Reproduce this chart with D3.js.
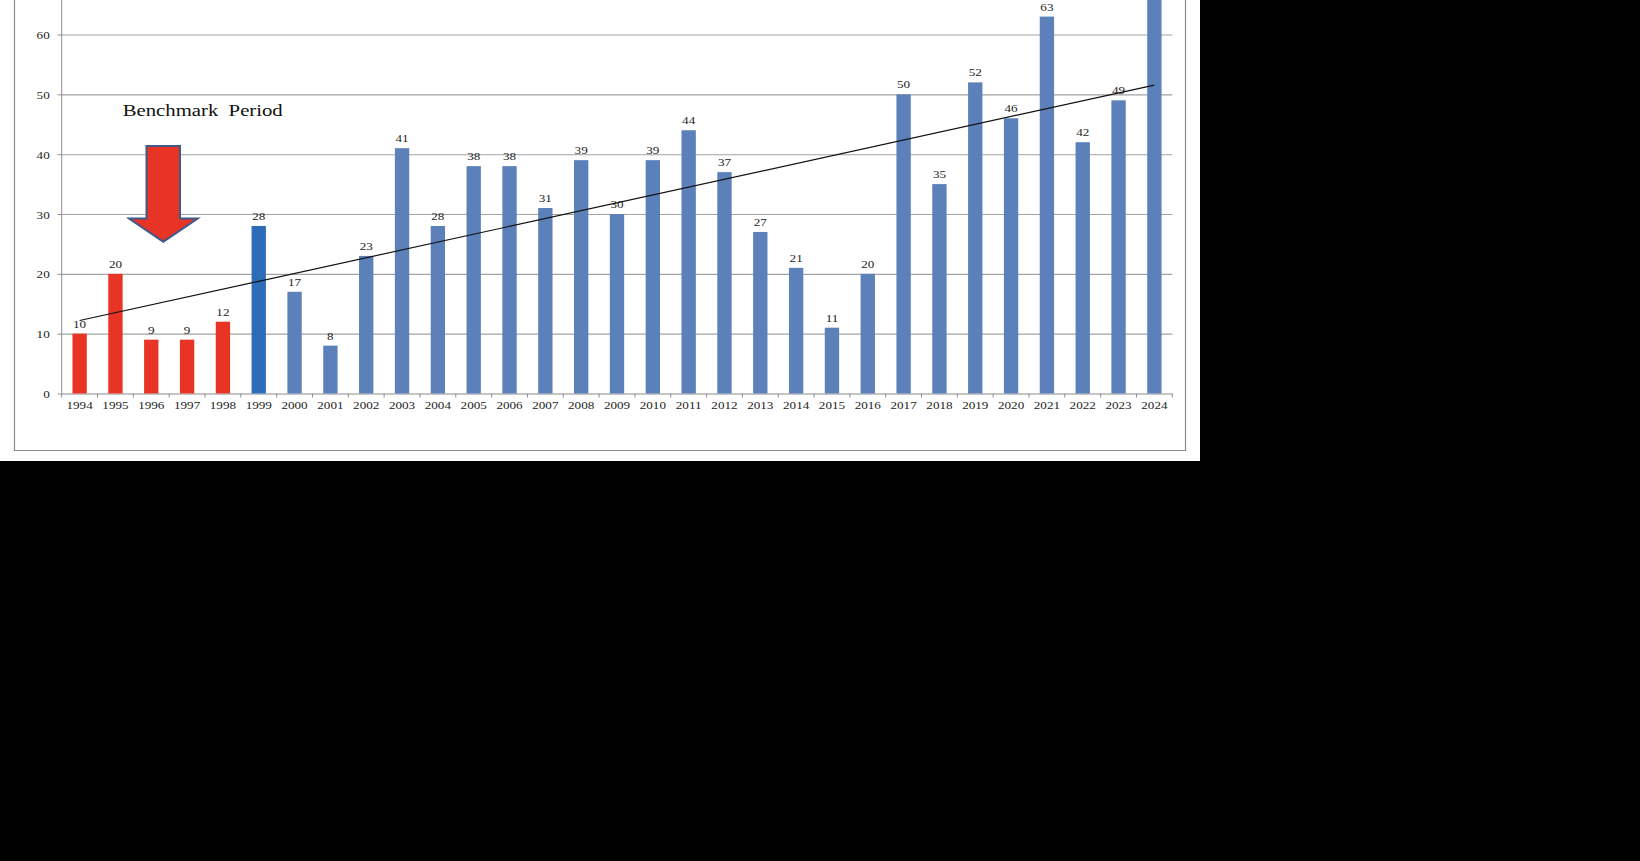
<!DOCTYPE html>
<html>
<head>
<meta charset="utf-8">
<script src="https://cdn.jsdelivr.net/npm/d3@7"></script>
<style>
    html, body { margin: 0; padding: 0; background: #000; }
    #chart { display: block; }
</style>
</head>
<body>
<svg id="chart" width="1640" height="861"></svg>
<script>
// data
var years = ["1994","1995","1996","1997","1998","1999","2000","2001","2002","2003","2004",
    "2005","2006","2007","2008","2009","2010","2011","2012","2013","2014","2015","2016",
    "2017","2018","2019","2020","2021","2022","2023","2024"];
var counts = [10, 20, 9, 9, 12, 28, 17, 8, 23, 41, 28, 38, 38, 31, 39, 30, 39, 44, 37, 27,
    21, 11, 20, 50, 35, 52, 46, 63, 42, 49, 71];
var benchmarkYears = ["1994","1995","1996","1997","1998"];
var highlightYears = ["1999"];
var yTicks = [0, 10, 20, 30, 40, 50, 60];
var annotationText = "Benchmark  Period";

var svg = d3.select("#chart");

const margin = { left: 61.7, right: 1172.3, bottom: 393.5 };
const unit = 5.983; // px per count

// white page + frame
svg.append("rect").attr("x", 0).attr("y", 0).attr("width", 1200).attr("height", 461).attr("fill", "#fff");
svg.append("path")
    .attr("d", "M14.5,-5V450.5H1185.5V-5")
    .attr("fill", "none")
    .attr("stroke", "#8c8c8c")
    .attr("stroke-width", 1.2);

const x = d3.scaleBand()
    .domain(years)
    .range([margin.left, margin.right])
    .paddingInner(0.6)
    .paddingOuter(0.3);

const step = x.step();

// the picture is cropped at the top, so the scale runs past the visible area
const y = d3.scaleLinear()
    .domain([0, 70])
    .range([margin.bottom, margin.bottom - 70 * unit]);

// stretched serif text, like the original picture
function stretch(sel, sx) {
    sel.attr("transform", function () {
        var t = d3.select(this);
        var tx = +t.attr("data-x"), ty = +t.attr("data-y");
        return `translate(${tx},${ty}) scale(${sx},1)`;
    });
}

// gridlines
svg.append("g")
    .selectAll("line")
    .data(yTicks.filter(d => d > 0))
    .join("line")
    .attr("x1", margin.left)
    .attr("x2", margin.right)
    .attr("y1", d => y(d) + 0.5)
    .attr("y2", d => y(d) + 0.5)
    .attr("stroke", "#a3a3a3")
    .attr("stroke-width", 1.1);

// y axis
const yAxis = svg.append("g")
    .attr("transform", `translate(${margin.left},0)`)
    .call(d3.axisLeft(y).tickValues(yTicks).tickSize(4).tickPadding(12).tickFormat(d3.format("d")));
yAxis.select(".domain").attr("stroke", "#8c8c8c").attr("d", `M0,${y(70)}V${y(0)}`);
yAxis.selectAll(".tick line").attr("stroke", "#8c8c8c");
yAxis.selectAll(".tick text").remove();
yAxis.selectAll(".tick")
    .append("text")
    .attr("data-x", -12)
    .attr("data-y", 4)
    .attr("text-anchor", "end")
    .attr("fill", "#222")
    .style("font", "10.5px 'Liberation Serif', serif")
    .text(d => d)
    .call(stretch, 1.25);

// x axis
const xAxis = svg.append("g")
    .attr("transform", `translate(0,${margin.bottom})`)
    .call(d3.axisBottom(x).tickSize(0));
xAxis.select(".domain").attr("stroke", "#8c8c8c").attr("d", `M${margin.left},0.5H${margin.right}`);
xAxis.selectAll(".tick text").remove();
xAxis.selectAll(".tick")
    .append("text")
    .attr("data-x", 0)
    .attr("data-y", 15)
    .attr("text-anchor", "middle")
    .attr("fill", "#222")
    .style("font", "10.5px 'Liberation Serif', serif")
    .text(d => d)
    .call(stretch, 1.25);
// category boundary ticks
svg.append("g")
    .selectAll("line")
    .data(years.concat(["end"]))
    .join("line")
    .attr("x1", (d, i) => margin.left + i * step)
    .attr("x2", (d, i) => margin.left + i * step)
    .attr("y1", margin.bottom)
    .attr("y2", margin.bottom + 4)
    .attr("stroke", "#8c8c8c");

// bars
const barColor = d => benchmarkYears.includes(d) ? "#e83425"
    : highlightYears.includes(d) ? "#2e6cb8" : "#5b80ba";

svg.append("g")
    .selectAll("rect")
    .data(years)
    .join("rect")
    .attr("x", d => x(d))
    .attr("width", x.bandwidth())
    .attr("y", (d, i) => y(counts[i]))
    .attr("height", (d, i) => y(0) - y(counts[i]))
    .attr("fill", barColor);

// value labels (the ones above the cropped top edge are not shown)
const labelled = years.map((d, i) => ({ year: d, value: counts[i] }))
    .filter(d => y(d.value) - 6 > 10);

svg.append("g")
    .selectAll("text")
    .data(labelled)
    .join("text")
    .attr("data-x", d => x(d.year) + x.bandwidth() / 2)
    .attr("data-y", d => y(d.value) - 6)
    .attr("text-anchor", "middle")
    .attr("fill", "#222")
    .style("font", "10.5px 'Liberation Serif', serif")
    .text(d => d.value)
    .call(stretch, 1.25);

// linear trendline (least squares over category index)
const idx = d3.range(counts.length);
const mx = d3.mean(idx), my = d3.mean(counts);
const slope = d3.sum(idx, i => (i - mx) * (counts[i] - my)) / d3.sum(idx, i => (i - mx) ** 2);
const icpt = my - slope * mx;
const cx = i => x(years[i]) + x.bandwidth() / 2;

svg.append("path")
    .attr("fill", "none")
    .attr("stroke", "#111")
    .attr("stroke-width", 1.2)
    .attr("d", d3.line()([[cx(0), y(icpt)], [cx(idx.length - 1), y(icpt + slope * (idx.length - 1))]]));

// annotation: text + arrow
svg.append("text")
    .attr("data-x", 122.7)
    .attr("data-y", 115.7)
    .attr("fill", "#111")
    .style("font", "17px 'Liberation Serif', serif")
    .style("white-space", "pre")
    .text(annotationText)
    .call(stretch, 1.22);

const arrow = [[146.5, 146], [180, 146], [180, 218.5], [197.7, 218.5], [163.3, 241.7],
    [129, 218.5], [146.5, 218.5]];
svg.append("path")
    .attr("d", "M" + arrow.join("L") + "Z")
    .attr("fill", "#e83425")
    .attr("stroke", "#41598a")
    .attr("stroke-width", 2)
    .attr("stroke-linejoin", "miter");
</script>
</body>
</html>
